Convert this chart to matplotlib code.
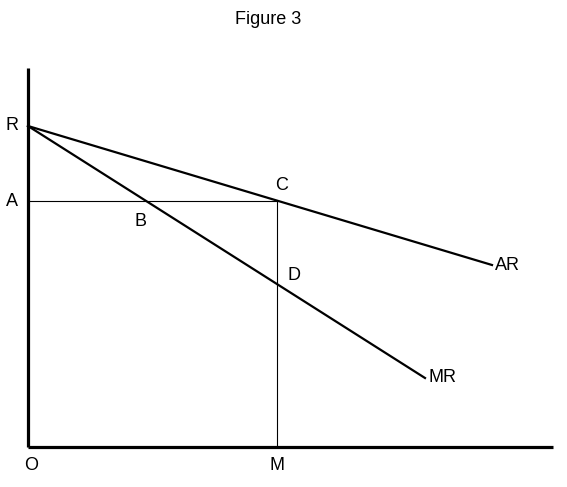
import matplotlib
matplotlib.use("Agg")
import matplotlib.pyplot as plt

plt.rcParams["font.family"] = ["Liberation Sans", "DejaVu Sans"]

# values in plot units (origin O at 0,0)
r_level = 321
a_level = 246
m_qty = 249
ar_end = (464, 182)
mr_end = (397, 69)
x_max = 525
y_max = 379

fig = plt.figure(figsize=(5.67, 4.87), dpi=100)
ax = fig.add_axes([0, 0, 1, 1])
ax.set_xlim(-28, 539)
ax.set_ylim(-40, 447)
ax.axis("off")

# axes
ax.plot([0, 0], [0, y_max], color="black", lw=2.3, solid_capstyle="butt")
ax.plot([0, x_max], [0, 0], color="black", lw=2.3, solid_capstyle="butt")

# AR and MR
ax.plot([0, ar_end[0]], [r_level, ar_end[1]], color="black", lw=1.6)
ax.plot([0, mr_end[0]], [r_level, mr_end[1]], color="black", lw=1.6)

# guide lines
ax.plot([0, m_qty], [a_level, a_level], color="black", lw=0.8)
ax.plot([m_qty, m_qty], [0, a_level], color="black", lw=0.8)

fs = 13
ax.text(240, 427, "Figure 3", ha="center", va="center", fontsize=fs)
ax.text(-16, r_level, "R", ha="center", va="center", fontsize=fs)
ax.text(-16, a_level, "A", ha="center", va="center", fontsize=fs)
ax.text(112, 225, "B", ha="center", va="center", fontsize=fs)
ax.text(254, 262, "C", ha="center", va="center", fontsize=fs)
ax.text(266, 172, "D", ha="center", va="center", fontsize=fs)
ax.text(ar_end[0] + 3, ar_end[1], "AR", ha="left", va="center", fontsize=fs)
ax.text(mr_end[0] + 3, mr_end[1], "MR", ha="left", va="center", fontsize=fs)
ax.text(3, -18, "O", ha="center", va="center", fontsize=fs)
ax.text(m_qty, -18, "M", ha="center", va="center", fontsize=fs)

fig.savefig("out.png", dpi=100)
